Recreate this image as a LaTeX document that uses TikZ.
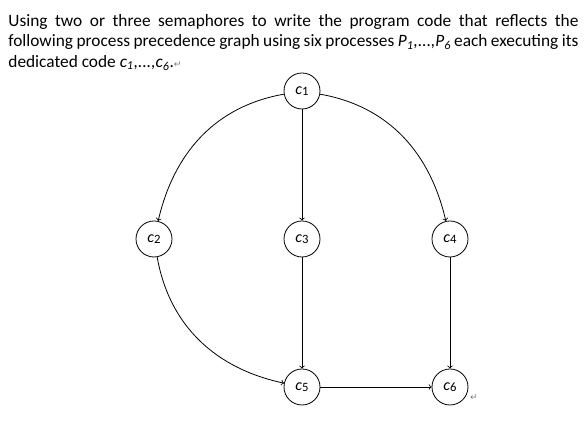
\documentclass[tikz,border=0pt]{standalone}
\usepackage{fontspec}
\setmainfont{Carlito}
\newfontfamily\symfont{DejaVu Sans}
\usetikzlibrary{positioning}
\tikzset{proc/.style={circle, draw=black, line width=0.6pt, minimum size=27pt, inner sep=0pt},
pmark/.style={text=gray, font=\symfont\fontsize{7}{7}\selectfont, inner sep=0pt}}
\newcommand{\cname}[1]{{\fontsize{12}{12}\selectfont\textit{c}}\raisebox{-0.5pt}{\fontsize{9.5}{9.5}\selectfont #1}}

\begin{document}
\begin{tikzpicture}[x=0.75pt, y=0.75pt, node distance=111pt, on grid, line width=0.6pt]
 \useasboundingbox (0,0) rectangle (587,423);

 %Question text
 \node (question) [anchor=north west, inner sep=0pt, text width=427.5pt, align=justify,
   font=\fontsize{13}{15.4}\selectfont] at (8,409)
   {Using two or three semaphores to write the program code that reflects the\linebreak
    following process precedence graph using six processes \textit{P\textsubscript{1},...,P\textsubscript{6}}\,each executing its\linebreak
    dedicated code \textit{c\textsubscript{1},...,c\textsubscript{6}}.{\color{gray}\symfont\fontsize{7}{7}\selectfont ↵}};

 %Drawing the processes
 \node[proc] (c1) at (302,332) {\cname{1}};
 \node[proc] (c3) [below=of c1] {\cname{3}};
 \node[proc] (c2) [left=of c3] {\cname{2}};
 \node[proc] (c4) [right=of c3] {\cname{4}};
 \node[proc] (c5) [below=of c3] {\cname{5}};
 \node[proc] (c6) [right=of c5] {\cname{6}};
 \node[pmark] (endmark) at (474,25) {↵};

 %Drawing precedence arrows
 \draw[->] (c1) to[out=190, in=77] (c2);
 \draw[->] (c1) -- (c3);
 \draw[->] (c1) to[out=-10, in=103] (c4);
 \draw[->] (c2) to[out=-80, in=168] (c5);
 \draw[->] (c3) -- (c5);
 \draw[->] (c4) -- (c6);
 \draw[->] (c5) -- (c6);

\end{tikzpicture}
\end{document}
